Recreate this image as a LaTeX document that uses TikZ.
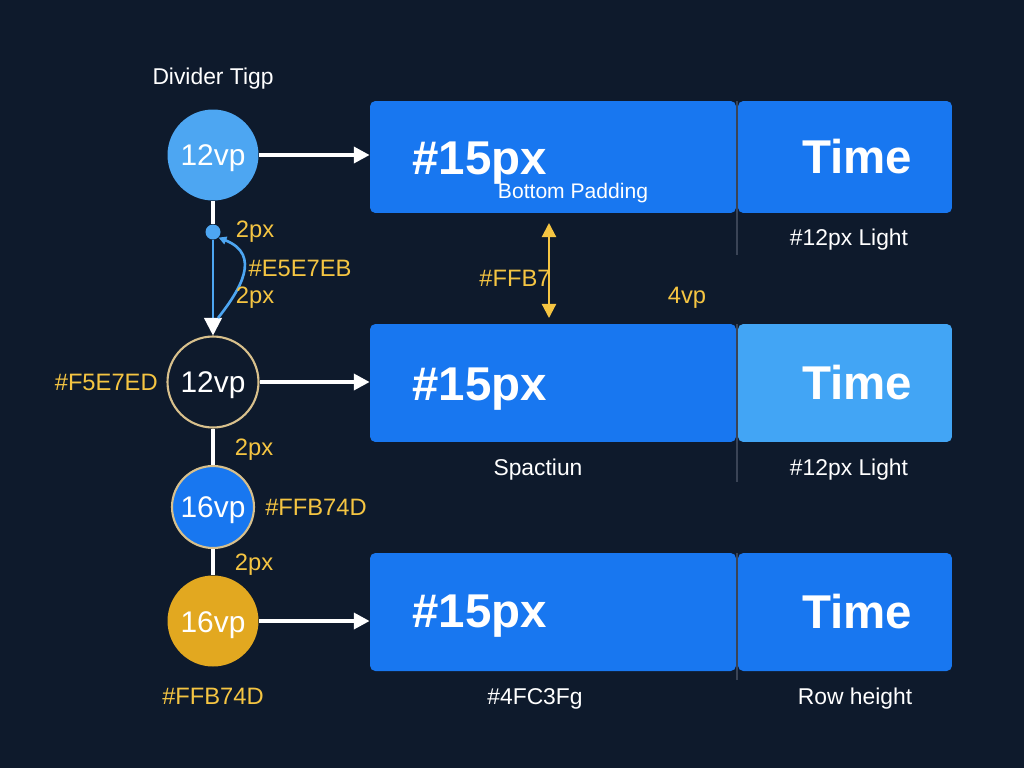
\documentclass[tikz,border=0pt]{standalone}
\usepackage{fontspec}
\setmainfont{Liberation Sans}
\usetikzlibrary{arrows.meta}
\definecolor{bg}{HTML}{0E1A2C}
\definecolor{boxblue}{HTML}{1877F0}
\definecolor{lightblue}{HTML}{42A5F5}
\definecolor{circblue}{HTML}{4DA6F2}
\definecolor{goldc}{HTML}{E2A820}
\definecolor{lab}{HTML}{F5C542}
\definecolor{tanc}{HTML}{D8C08C}
\definecolor{sepc}{HTML}{3A4456}
\newcommand{\fsz}[1]{\fontsize{#1}{#1}\selectfont}
\begin{document}
\begin{tikzpicture}[x=0.02cm,y=-0.02cm,
  circ/.style={circle, inner sep=0pt, minimum size=1.82cm},
  ctxt/.style={text=white, font=\fsz{17}, inner sep=0pt, anchor=base},
  boxl/.style={rectangle, rounded corners=3pt, fill=boxblue, minimum width=7.32cm, inner sep=0pt},
  boxr/.style={rectangle, rounded corners=3pt, fill=boxblue, minimum width=4.28cm, inner sep=0pt},
  bigtxt/.style={text=white, font=\bfseries\fsz{27}, inner sep=0pt},
  smtxt/.style={text=white, font=\fsz{13}, inner sep=0pt, anchor=base},
  labtxt/.style={text=lab, font=\fsz{13.5}, inner sep=0pt},
  arr/.style={draw=white, line width=2.2pt, -{Triangle[length=9pt,width=9pt]}},
  link/.style={draw=white, line width=2.4pt},
  sepline/.style={draw=sepc, line width=0.6pt}]
\fill[bg] (0,0) rectangle (1024,768);
\useasboundingbox (0,0) rectangle (1024,768);

% title
\node[text=white, font=\fsz{13}, inner sep=0pt, anchor=base] (title) at (213,84) {Divider Tigp};

% separators
\draw[sepline] (737,101) -- (737,255);
\draw[sepline] (737,324) -- (737,482);
\draw[sepline] (737,553) -- (737,680);

% boxes row 1
\node[boxl, minimum height=2.24cm] (b1l) at (553,157) {};
\node[boxr, minimum height=2.24cm] (b1r) at (845,157) {};
\node[bigtxt, anchor=base west] (t1) at (412,174) {\#15px};
\node[text=white, font=\fsz{12}, inner sep=0pt, anchor=base] (bp) at (573,198) {Bottom Padding};
\node[bigtxt, anchor=base] (time1) at (857,173) {Time};
\node[smtxt] (l1) at (849,245) {\#12px Light};

% boxes row 2
\node[boxl, minimum height=2.36cm] (b2l) at (553,383) {};
\node[boxr, minimum height=2.36cm, fill=lightblue] (b2r) at (845,383) {};
\node[bigtxt, anchor=base west] (t2) at (412,400) {\#15px};
\node[bigtxt, anchor=base] (time2) at (857,399) {Time};
\node[smtxt] (sp) at (538,475) {Spactiun};
\node[smtxt] (l2) at (849,475) {\#12px Light};

% boxes row 3
\node[boxl, minimum height=2.36cm] (b3l) at (553,612) {};
\node[boxr, minimum height=2.36cm] (b3r) at (845,612) {};
\node[bigtxt, anchor=base west] (t3) at (412,627) {\#15px};
\node[bigtxt, anchor=base] (time3) at (857,628) {Time};
\node[smtxt] (hx) at (535,704) {\#4FC3Fg};
\node[smtxt] (rh) at (855,704) {Row height};

% circles
\node[circ, fill=circblue] (c1) at (213,155) {};
\node[circ, fill=bg, draw=tanc, line width=1.2pt] (c2) at (213,382) {};
\node[circ, fill=boxblue, draw=tanc, line width=1.2pt, minimum size=1.64cm] (c3) at (213,507) {};
\node[circ, fill=goldc] (c4) at (213,621) {};
\node[ctxt] (c1t) at (213,165) {12vp};
\node[ctxt] (c2t) at (213,392) {12vp};
\node[ctxt] (c3t) at (213,517) {16vp};
\node[ctxt] (c4t) at (213,632) {16vp};

% dot
\node[circle, fill=circblue, inner sep=0pt, minimum size=0.3cm] (dot) at (213,232) {};

% connectors
\draw[link] (c1.south) -- (dot.north);
\draw[draw=circblue, line width=1.4pt, -{Triangle[length=10pt,width=10pt,color=white]}] (dot.south) -- (c2.north);
\draw[draw=circblue, line width=1.5pt, {Triangle[length=4.5pt,width=4.5pt]}-] (dot.south east) .. controls (262,255) and (240,290) .. (218,318);
\draw[link] (c2.south) -- (c3.north);
\draw[link] (c3.south) -- (c4.north);
\draw[arr] (c1.east) -- (c1.east -| b1l.west);
\draw[arr] (c2.east) -- (c2.east -| b2l.west);
\draw[arr] (c4.east) -- (c4.east -| b3l.west);

% labels
\node[labtxt] (p1) at (255,232) {2px};
\node[labtxt] (e5) at (300,268) {\#E5E7EB};
\node[labtxt] (p2) at (255,298) {2px};
\node[labtxt, anchor=east] (f5) at (158,382) {\#F5E7ED};
\node[labtxt] (p3) at (254,450) {2px};
\node[labtxt] (fb1) at (316,507) {\#FFB74D};
\node[labtxt] (p4) at (254,565) {2px};
\node[labtxt] (fb2) at (213,696) {\#FFB74D};

% spacing arrow
\coordinate (su) at (549,223);
\coordinate (sd) at (549,318);
\draw[draw=lab, line width=1.2pt, {Triangle[length=8pt,width=8pt]}-{Triangle[length=8pt,width=8pt]}] (su) -- (sd);
\node[labtxt] (ffb7) at (515,278) {\#FFB7};
\node[labtxt] (vp4) at (687,298) {4vp};
\end{tikzpicture}
\end{document}
